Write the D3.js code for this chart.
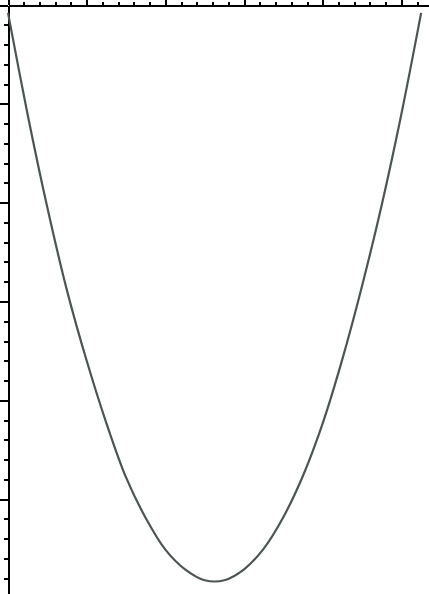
<!DOCTYPE html>
<html lang="en">
<head>
<meta charset="UTF-8">
<title>Parabola</title>
<script src="https://d3js.org/d3.v7.min.js"></script>
<style>
  body {margin: 0; background: #fff;}
  .axis path, .axis line {stroke: #000; stroke-width: 2; shape-rendering: crispEdges;}
  .curve {fill: none; stroke: #4d5553; stroke-width: 2.2;}
</style>
</head>
<body>
<div id="chart"></div>
<script>
    // values
    var xValues = [0, 0.25, 0.5, 0.75, 1, 1.25, 1.5, 1.75, 2, 2.25, 2.5, 2.75,
                   3, 3.25, 3.5, 3.75, 4, 4.25, 4.5, 4.75, 5, 5.25];
    var yValues = [5.92, 4.89, 3.95, 3.11, 2.40, 1.77, 1.22, 0.81, 0.49, 0.29, 0.18, 0.18,
                   0.29, 0.50, 0.82, 1.24, 1.77, 2.42, 3.16, 3.98, 4.90, 5.92];
    var xMajorTicks = [0, 1, 2, 3, 4, 5];
    var yMajorTicks = [0, 1, 2, 3, 4, 5, 6];

    var width = 429, height = 594;

    var x = d3.scaleLinear().domain([0, 5.35]).range([8, 429]);
    var y = d3.scaleLinear().domain([0, 6]).range([598, 5]);

    var svg = d3.select("#chart").append("svg")
        .attr("width", width)
        .attr("height", height);

    var minorX = d3.range(0, 5.35, 0.2),
        minorY = d3.range(0, 6.01, 0.2);

    // top axis: minor then major ticks
    svg.append("g").attr("class", "axis")
        .attr("transform", "translate(0," + y(6) + ")")
        .call(d3.axisTop(x).tickValues(minorX).tickSize(3).tickSizeOuter(0).tickFormat(""));
    svg.append("g").attr("class", "axis")
        .attr("transform", "translate(0," + y(6) + ")")
        .call(d3.axisTop(x).tickValues(xMajorTicks).tickSize(6).tickSizeOuter(0).tickFormat(""));

    // left axis
    svg.append("g").attr("class", "axis")
        .attr("transform", "translate(" + x(0) + ",0)")
        .call(d3.axisLeft(y).tickValues(minorY).tickSize(4).tickSizeOuter(0).tickFormat(""));
    svg.append("g").attr("class", "axis")
        .attr("transform", "translate(" + x(0) + ",0)")
        .call(d3.axisLeft(y).tickValues(yMajorTicks).tickSize(8).tickSizeOuter(0).tickFormat(""));

    var points = xValues.map(function(d, i) { return [d, yValues[i]]; });

    var line = d3.line()
        .x(function(d) { return x(d[0]); })
        .y(function(d) { return y(d[1]); })
        .curve(d3.curveCatmullRom);

    svg.append("path")
        .datum(points)
        .attr("class", "curve")
        .attr("d", line);
</script>
</body>
</html>
